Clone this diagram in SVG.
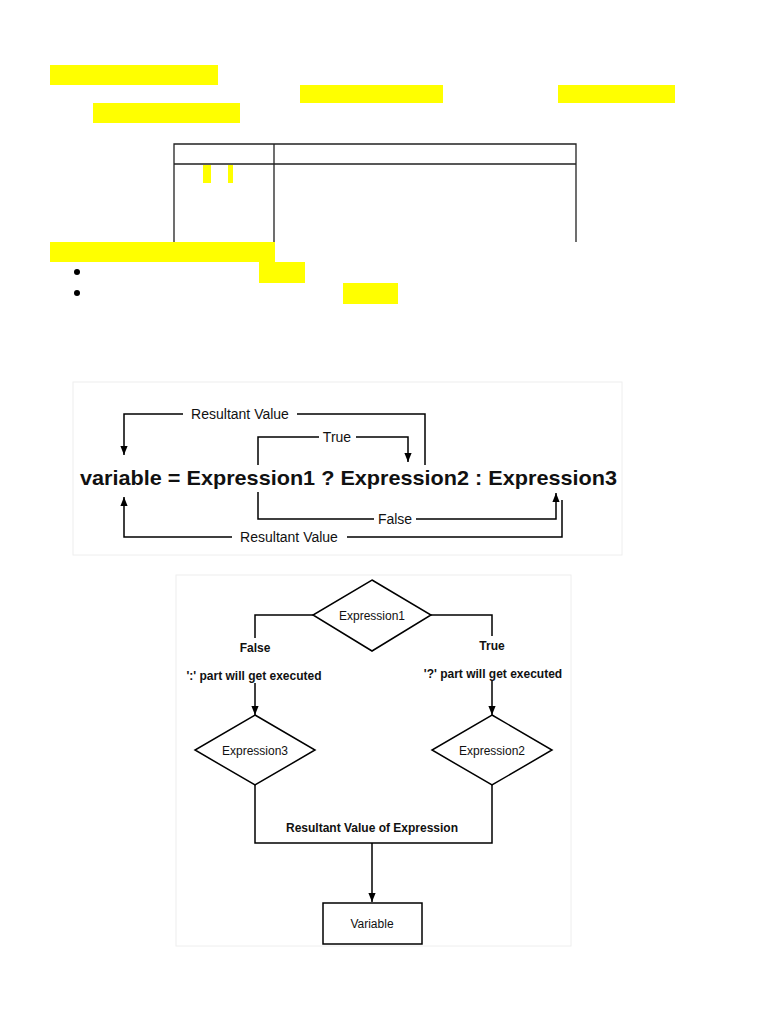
<svg xmlns="http://www.w3.org/2000/svg" width="768" height="1024" viewBox="0 0 768 1024">
<style>
.y{fill:#ffff00}
.ln{fill:none;stroke:#000;stroke-width:1.5}
.tl{fill:none;stroke:#222;stroke-width:1.3}
.eq{font-family:"Liberation Sans",Arial,sans-serif;font-weight:bold;font-size:21px;fill:#111}
.lb{font-family:"Liberation Sans",Arial,sans-serif;font-size:14px;fill:#111}
.fb{font-family:"Liberation Sans",Arial,sans-serif;font-weight:bold;font-size:12px;fill:#111}
.fn{font-family:"Liberation Sans",Arial,sans-serif;font-size:12px;fill:#111}
</style>
<defs>
<marker id="a" viewBox="0 0 10 10" refX="10" refY="5" markerWidth="6" markerHeight="6" orient="auto"><path d="M0,1 L10,5 L0,9 z" fill="#000"/></marker>
</defs>
<rect width="768" height="1024" fill="#fff"/>
<g id="page">
<rect class="y" x="50" y="65" width="168" height="20"/>
<rect class="y" x="300" y="85" width="143" height="18"/>
<rect class="y" x="558" y="85" width="117" height="18"/>
<rect class="y" x="93" y="103" width="147" height="20"/>
<path class="tl" d="M174,242 V144 H576 V242 M174,164 H576 M274,144 V242"/>
<rect class="y" x="203" y="165" width="8" height="18"/>
<rect class="y" x="228" y="165" width="5" height="18"/>
<rect class="y" x="50" y="242" width="225" height="20"/>
<rect class="y" x="259" y="262" width="46" height="21"/>
<rect class="y" x="343" y="283" width="55" height="21"/>
<circle cx="77" cy="272" r="3" fill="#000"/>
<circle cx="77" cy="293" r="3" fill="#000"/>
</g>
<g id="diagram1">
<rect x="73" y="382" width="549" height="173" fill="#fff" stroke="#eee"/>
<text class="eq" x="80" y="485" textLength="537" lengthAdjust="spacingAndGlyphs">variable =  Expression1 ? Expression2 : Expression3</text>
<g id="connectors1">
<path class="ln" d="M425,465 V414 H124 V455" marker-end="url(#a)"/>
<path class="ln" d="M258,465 V437 H408 V462" marker-end="url(#a)"/>
<path class="ln" d="M258,492 V519 H556 V493" marker-end="url(#a)"/>
<path class="ln" d="M562,500 V537 H124 V497" marker-end="url(#a)"/>
<rect x="183" y="406" width="114" height="16" fill="#fff"/>
<rect x="319" y="429" width="37" height="16" fill="#fff"/>
<rect x="374" y="511" width="42" height="16" fill="#fff"/>
<rect x="232" y="529" width="115" height="16" fill="#fff"/>
</g>
<text class="lb" x="240" y="419" text-anchor="middle">Resultant Value</text>
<text class="lb" x="337" y="442" text-anchor="middle">True</text>
<text class="lb" x="395" y="524" text-anchor="middle">False</text>
<text class="lb" x="289" y="542" text-anchor="middle">Resultant Value</text>
</g>
<g id="diagram2">
<rect x="176" y="575" width="395" height="371" fill="#fff" stroke="#eee"/>
<g id="connectors2">
<path class="ln" d="M313,615 H255 V638"/>
<path class="ln" d="M431,615 H492 V636"/>
<path class="ln" d="M255,683 V715" marker-end="url(#a)"/>
<path class="ln" d="M492,681 V715" marker-end="url(#a)"/>
<path class="ln" d="M255,785 V843 H492 V785"/>
<path class="ln" d="M372,843 V902" marker-end="url(#a)"/>
</g>
<g id="e1"><path class="ln" d="M372,580 L431,615 L372,651 L313,615 Z" fill="#fff"/><text class="fn" x="372" y="620" text-anchor="middle">Expression1</text></g>
<g id="e3"><path class="ln" d="M255,715 L315,750 L255,785 L195,750 Z" fill="#fff"/><text class="fn" x="255" y="755" text-anchor="middle">Expression3</text></g>
<g id="e2"><path class="ln" d="M492,715 L552,750 L492,785 L432,750 Z" fill="#fff"/><text class="fn" x="492" y="755" text-anchor="middle">Expression2</text></g>
<g id="var"><rect class="ln" x="323" y="903" width="99" height="41" fill="#fff"/><text class="fn" x="372" y="928" text-anchor="middle">Variable</text></g>
<text class="fb" x="255" y="652" text-anchor="middle">False</text>
<text class="fb" x="492" y="650" text-anchor="middle">True</text>
<text class="fb" x="254" y="680" text-anchor="middle">':' part will get executed</text>
<text class="fb" x="493" y="678" text-anchor="middle">'?' part will get executed</text>
<text class="fb" x="372" y="832" text-anchor="middle">Resultant Value of Expression</text>
</g>
</svg>
